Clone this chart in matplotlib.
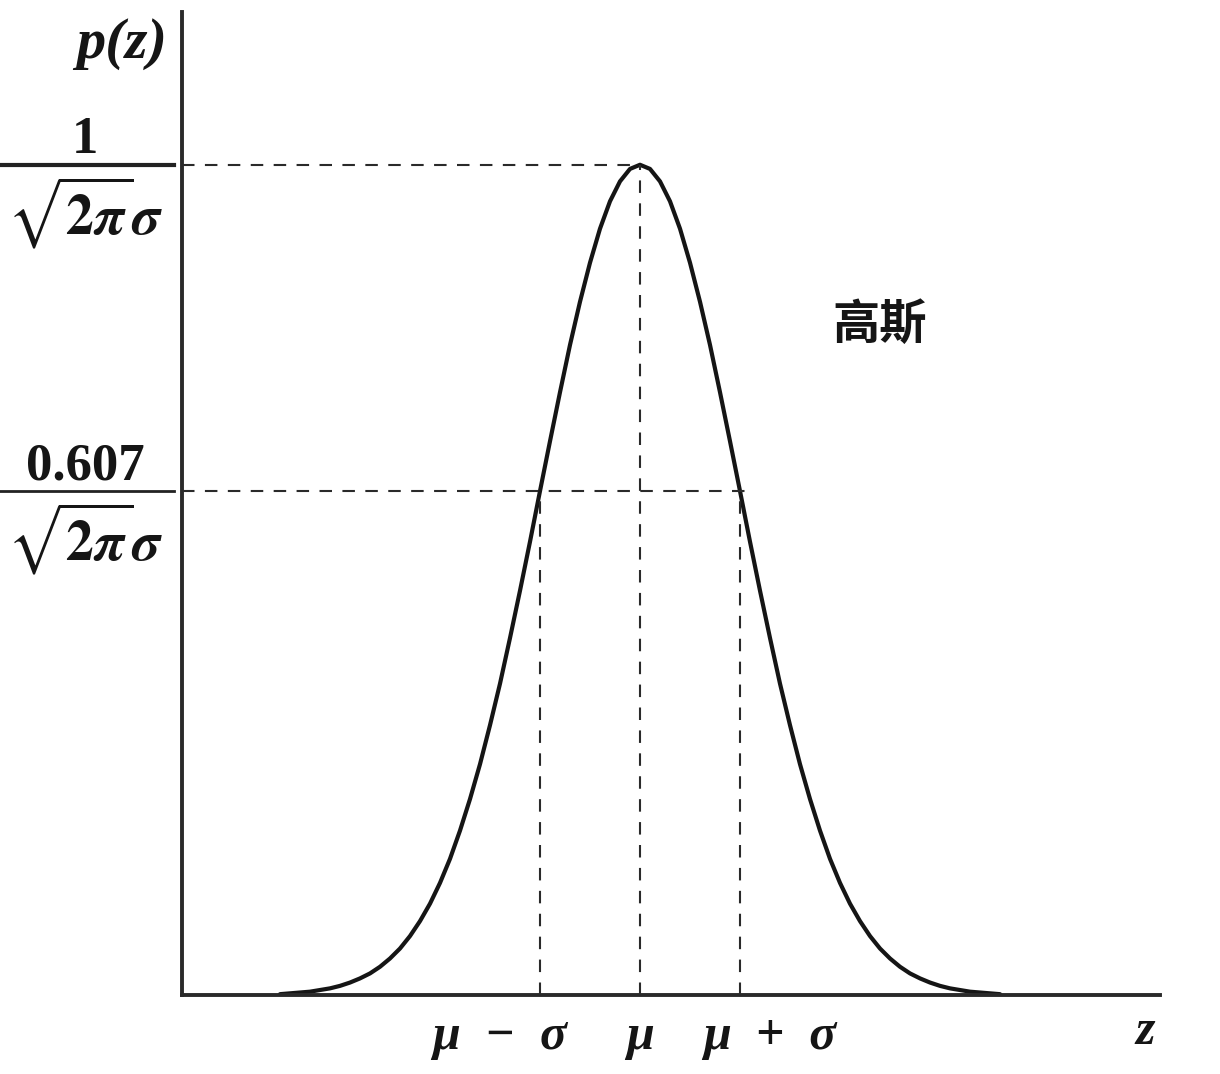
import numpy as np
import matplotlib
matplotlib.use("Agg")
import matplotlib.pyplot as plt

# ===== 字體設定 =====
plt.rcParams['font.family'] = ['Liberation Serif', 'Noto Sans CJK SC', 'DejaVu Serif']
plt.rcParams['mathtext.fontset'] = 'stix'

# ===== 資料 (以 σ 為單位, 峰值正規化為 1) =====
mu = 0.0
sigma = 1.0
z_pts = np.round(np.arange(-36, 37) / 10, 1)
p_vals = [0.001, 0.002, 0.003, 0.004, 0.006, 0.008, 0.011, 0.015, 0.020, 0.026,
          0.034, 0.044, 0.056, 0.071, 0.089, 0.110, 0.135, 0.164, 0.198, 0.236,
          0.278, 0.325, 0.375, 0.430, 0.487, 0.546, 0.607, 0.667, 0.726, 0.783,
          0.835, 0.882, 0.923, 0.956, 0.980, 0.995, 1.000, 0.995, 0.980, 0.956,
          0.923, 0.882, 0.835, 0.783, 0.726, 0.667, 0.607, 0.546, 0.487, 0.430,
          0.375, 0.325, 0.278, 0.236, 0.198, 0.164, 0.135, 0.110, 0.089, 0.071,
          0.056, 0.044, 0.034, 0.026, 0.020, 0.015, 0.011, 0.008, 0.006, 0.004,
          0.003, 0.002, 0.001]
peak_level = 1.0
sigma_level = 0.607
x_labels = ['μ  −  σ', 'μ', 'μ  +  σ']
x_label_pos = [-1.4, 0.0, 1.3]

# ===== 畫圖 =====
fig = plt.figure(figsize=(12.2, 10.74), dpi=100)
ax = fig.add_axes([182 / 1220, 79 / 1074, 978 / 1220, 983 / 1074])
ax.set_xlim(-4.58, 5.2)
ax.set_ylim(0, 1.184)

ink = '#151515'
ax.plot(z_pts, p_vals, color=ink, lw=3.0, solid_capstyle='round')

dash = dict(color='#2a2a2a', lw=1.5, dashes=(6, 5))
ax.plot([-4.58, mu], [peak_level, peak_level], **dash)
ax.plot([-4.58, mu + sigma * 1.05], [sigma_level, sigma_level], **dash)
ax.plot([mu, mu], [0, peak_level], **dash)
ax.plot([mu - sigma, mu - sigma], [0, sigma_level], **dash)
ax.plot([mu + sigma, mu + sigma], [0, sigma_level], **dash)

for s in ['top', 'right']:
    ax.spines[s].set_visible(False)
for s in ['left', 'bottom']:
    ax.spines[s].set_linewidth(2.8)
    ax.spines[s].set_color('#2a2a2a')
ax.set_xticks([])
ax.set_yticks([])

# 分數標籤 (縱軸)
xl = -5.55
for lvl, num, bw in [(peak_level, '1', 3.0), (sigma_level, '0.607', 2.0)]:
    ax.plot([-6.4, -4.66], [lvl, lvl], color='#222222', lw=bw,
            clip_on=False)
    ax.text(xl, lvl + 0.014, num, ha='center', va='baseline', fontsize=38,
            fontweight='bold', color=ink, clip_on=False)
    ax.text(xl, lvl - 0.012, r'$\sqrt{\mathbf{2}\boldsymbol{\pi}}\boldsymbol{\sigma}$',
            ha='center', va='top', fontsize=40, color=ink, clip_on=False)

ax.text(-5.18, 1.145, 'p(z)', ha='center', va='center', fontsize=42,
        fontstyle='italic', fontweight='bold', color=ink, clip_on=False)

# 橫軸標籤
for pos, lab in zip(x_label_pos, x_labels):
    ax.text(pos, -0.05, lab, ha='center', va='center', fontsize=36,
            fontstyle='italic', fontweight='bold', color=ink, clip_on=False)
ax.text(5.05, -0.045, 'z', ha='center', va='center', fontsize=36,
        fontstyle='italic', fontweight='bold', color=ink, clip_on=False)

ax.text(2.4, 0.807, '高斯', ha='center', va='center', fontsize=34,
        fontweight='bold', family=['Noto Sans CJK SC', 'DejaVu Sans'],
        color=ink)

fig.savefig('out.png', dpi=100)
